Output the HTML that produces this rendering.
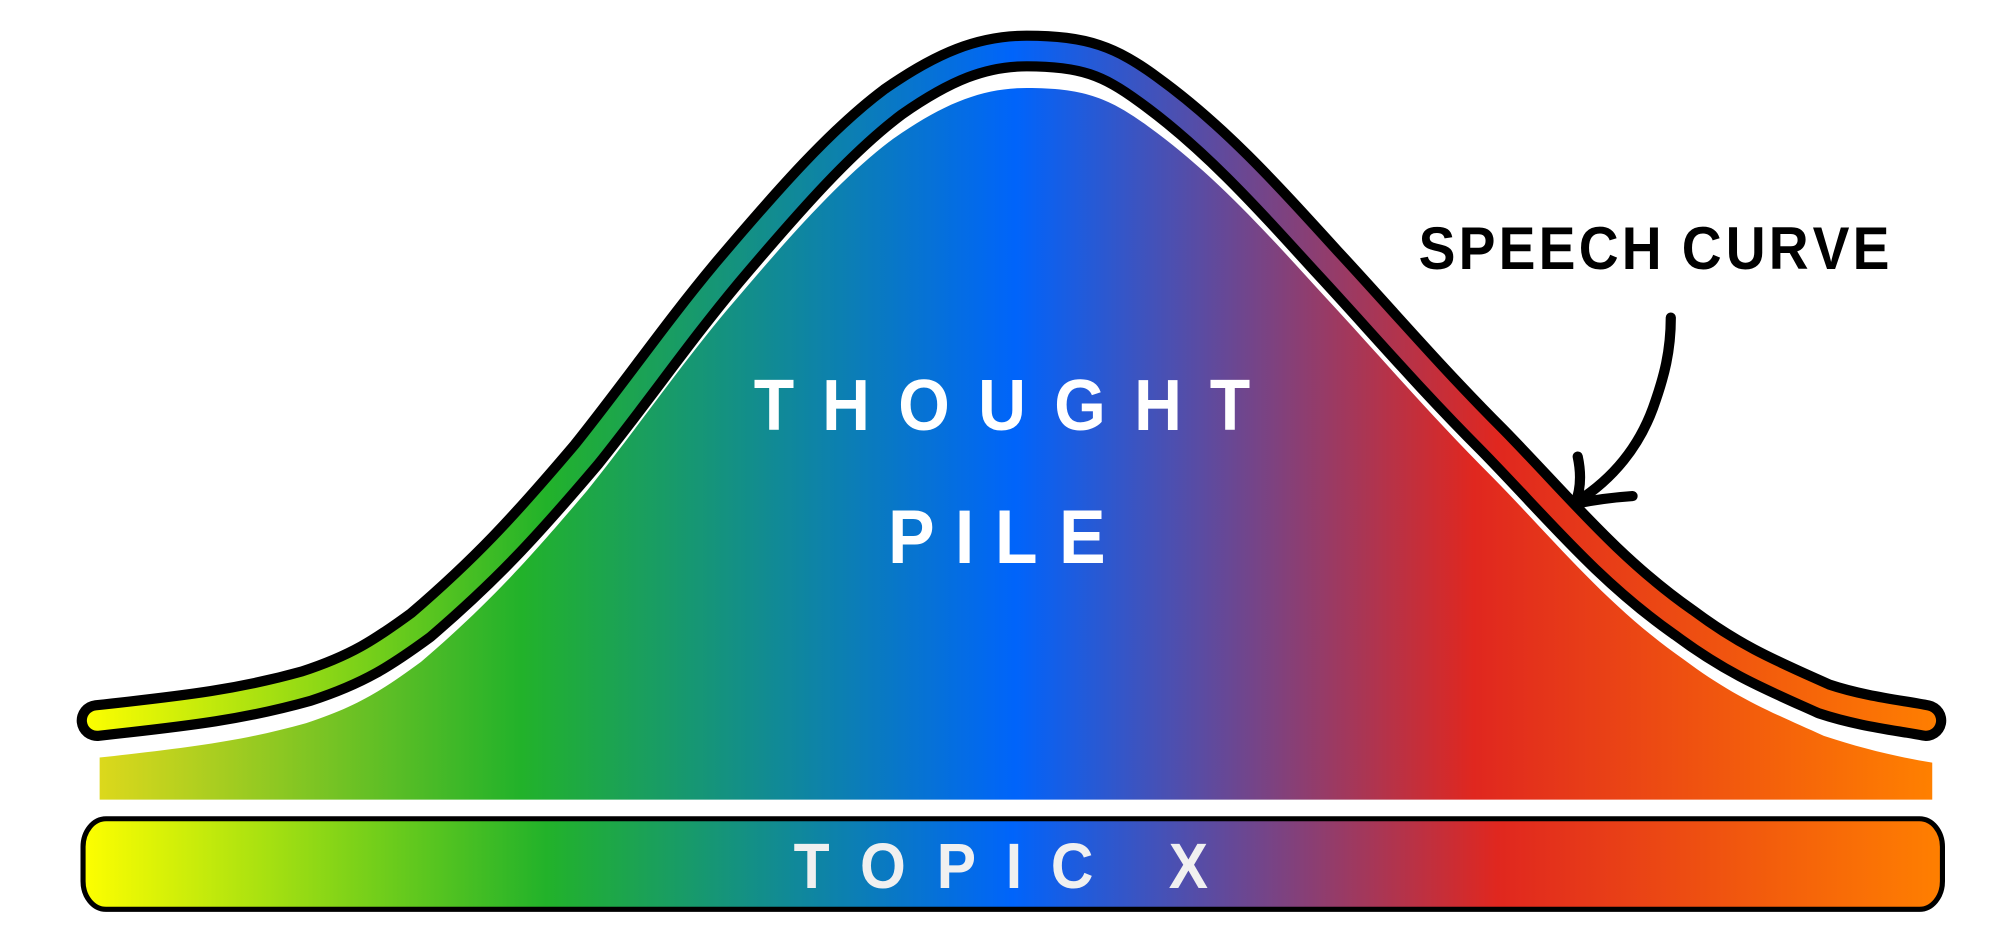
<!DOCTYPE html>
<html><head><meta charset="utf-8"><style>
html,body{margin:0;padding:0;background:#fff;}
body{position:relative;width:2000px;height:945px;overflow:hidden;}
svg{display:block;position:absolute;left:0;top:0;}
.lbl{position:absolute;display:flex;justify-content:space-between;font-family:"Liberation Sans",sans-serif;font-weight:bold;line-height:1;white-space:pre;}
.lbl span{display:inline-block;transform:scaleX(.92);}
</style></head><body>
<svg width="2000" height="945" viewBox="0 0 1568 741" xmlns="http://www.w3.org/2000/svg">
<defs>
<linearGradient id="g" gradientUnits="userSpaceOnUse" x1="63" y1="0" x2="1525" y2="0">
<stop offset="0" stop-color="#ffff00"/>
<stop offset="0.25" stop-color="#22b22a"/>
<stop offset="0.5" stop-color="#0064fb"/>
<stop offset="0.76" stop-color="#e0271f"/>
<stop offset="1" stop-color="#ff8000"/>
</linearGradient>
<linearGradient id="gp" gradientUnits="userSpaceOnUse" x1="78" y1="0" x2="1515" y2="0">
<stop offset="0" stop-color="#dcd81c"/>
<stop offset="0.23" stop-color="#22b22a"/>
<stop offset="0.5" stop-color="#0064fb"/>
<stop offset="0.75" stop-color="#e0271f"/>
<stop offset="1" stop-color="#ff8000"/>
</linearGradient>
</defs>

<path fill="url(#gp)" d="M78,594 C150,586 190,581 240,567 C280,554 300,541 330,519 C380,476 410,444 460,385 C500,335 530,291 570,243 C620,184 660,139 700,109 C740,81 770,69 805,69 C850,69 870,77 900,99 C950,135 990,179 1040,234 C1080,277 1120,324 1170,374 C1220,425 1260,475 1320,517 C1360,547 1390,559 1430,577 C1460,587 1490,594 1515,598 L1515,627 L78,627 Z"/>

<g fill="none" stroke-linecap="round" stroke-linejoin="round">
<path stroke="#000" stroke-width="32" d="M76,565 C150,557 190,552 240,538 C280,525 300,512 330,490 C380,447 410,415 460,356 C500,306 530,262 570,214 C620,155 660,110 700,80 C740,52 770,40 805,40 C850,40 870,48 900,70 C950,106 990,150 1040,205 C1080,248 1120,295 1170,345 C1220,396 1260,446 1320,488 C1360,518 1390,530 1430,548 C1460,558 1490,561 1510,565"/>
<path stroke="url(#g)" stroke-width="16" d="M76,565 C150,557 190,552 240,538 C280,525 300,512 330,490 C380,447 410,415 460,356 C500,306 530,262 570,214 C620,155 660,110 700,80 C740,52 770,40 805,40 C850,40 870,48 900,70 C950,106 990,150 1040,205 C1080,248 1120,295 1170,345 C1220,396 1260,446 1320,488 C1360,518 1390,530 1430,548 C1460,558 1490,561 1510,565"/>
</g>

<g fill="none" stroke="#000" stroke-width="8" stroke-linecap="round" stroke-linejoin="round">
<path d="M1310,249 C1310,275 1305,295 1296,320 C1285,350 1265,375 1237,393"/>
<path d="M1237,358 C1240,372 1239,385 1235,395 C1250,392 1265,390 1280,389"/>
</g>

<rect x="65" y="642" width="1458" height="71" rx="18" ry="22" fill="url(#g)" stroke="#000" stroke-width="4"/>
</svg>

<div class="lbl" style="left:752px;top:370px;width:500px;font-size:72px;color:#fff;"><span>T</span><span>H</span><span>O</span><span>U</span><span>G</span><span>H</span><span>T</span></div>
<div class="lbl" style="left:886px;top:500px;width:222px;font-size:76px;color:#fff;"><span>P</span><span>I</span><span>L</span><span>E</span></div>
<div class="lbl" style="left:792px;top:834px;width:418px;font-size:64px;color:#f0f0f0;"><span>T</span><span>O</span><span>P</span><span>I</span><span>C</span><span> </span><span>X</span></div>
<div class="lbl" style="left:1417px;top:219px;width:368px;font-size:60px;color:#000;"><span>S</span><span>P</span><span>E</span><span>E</span><span>C</span><span>H</span><span> </span><span>C</span><span>U</span><span>R</span><span>V</span><span>E</span></div>
</body></html>
